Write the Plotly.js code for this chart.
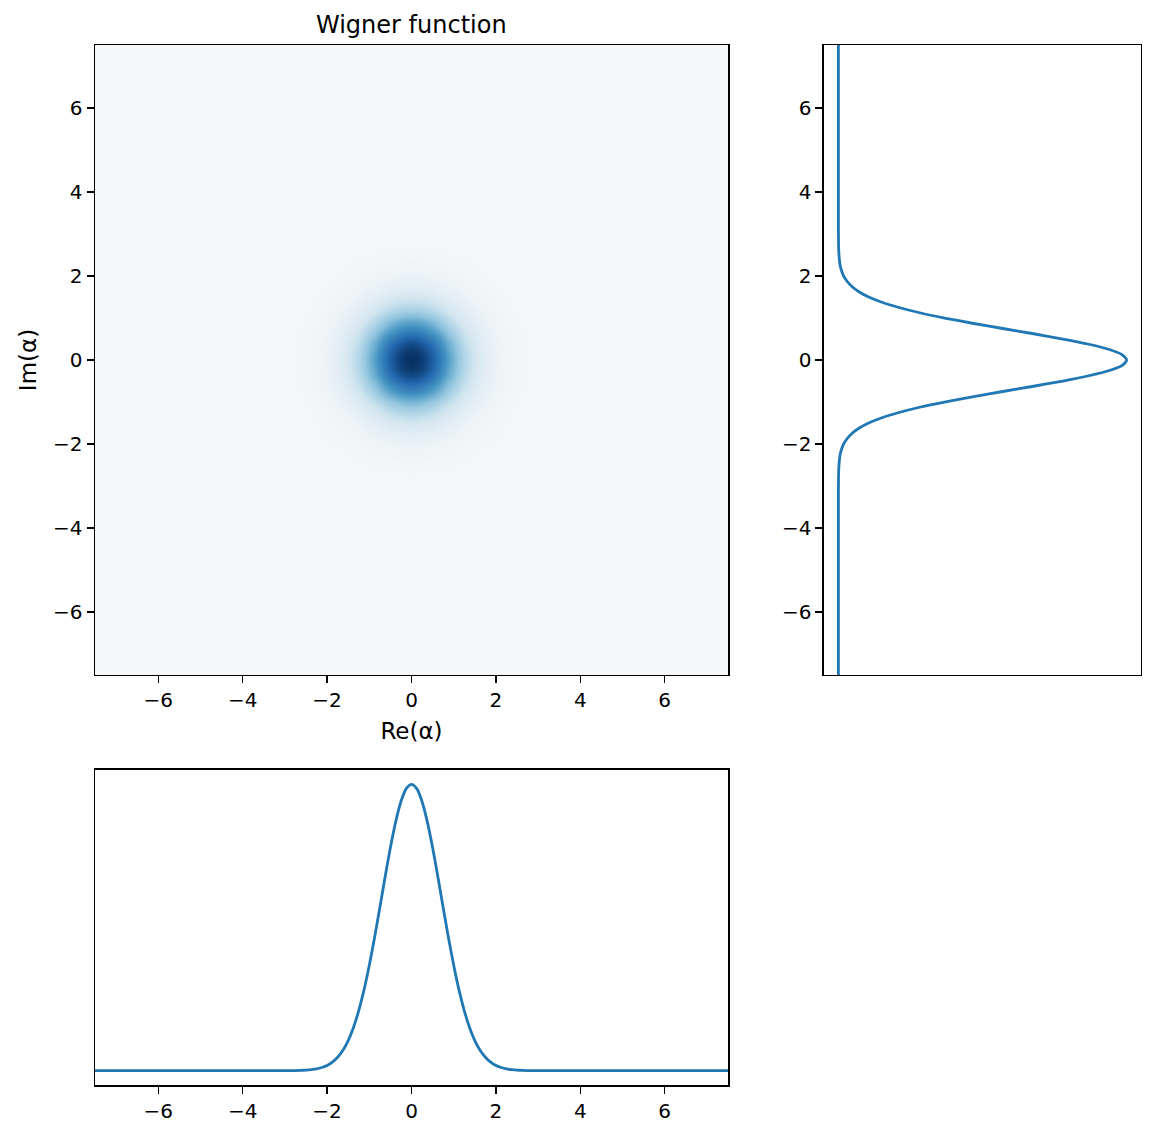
<!DOCTYPE html>
<html>
<head>
<meta charset="utf-8">
<script src="https://cdn.plot.ly/plotly-3.0.1.min.js"></script>
<style>html,body{margin:0;padding:0;background:#fff;}#chart{width:1156px;height:1135px;}</style>
</head>
<body>
<div id="chart"></div>
<script>
// Sample grid (Re(α) / Im(α) values), step 0.125 from -7.5 to 7.5
const gridPoints = [-7.5,-7.375,-7.25,-7.125,-7,-6.875,-6.75,-6.625,-6.5,-6.375,-6.25,-6.125,-6,-5.875,-5.75,-5.625,-5.5,-5.375,-5.25,-5.125,-5,-4.875,-4.75,-4.625,-4.5,-4.375,-4.25,-4.125,-4,-3.875,-3.75,-3.625,-3.5,-3.375,-3.25,-3.125,-3,-2.875,-2.75,-2.625,-2.5,-2.375,-2.25,-2.125,-2,-1.875,-1.75,-1.625,-1.5,-1.375,-1.25,-1.125,-1,-0.875,-0.75,-0.625,-0.5,-0.375,-0.25,-0.125,0,0.125,0.25,0.375,0.5,0.625,0.75,0.875,1,1.125,1.25,1.375,1.5,1.625,1.75,1.875,2,2.125,2.25,2.375,2.5,2.625,2.75,2.875,3,3.125,3.25,3.375,3.5,3.625,3.75,3.875,4,4.125,4.25,4.375,4.5,4.625,4.75,4.875,5,5.125,5.25,5.375,5.5,5.625,5.75,5.875,6,6.125,6.25,6.375,6.5,6.625,6.75,6.875,7,7.125,7.25,7.375,7.5];

// Marginal distribution (normalised to its peak), from 0 outwards
const marginalHalf = [1.0,0.985,0.94,0.869,0.779,0.677,0.57,0.465,0.368,0.282,0.21,0.151,0.105,0.071,0.047,0.03,0.018,0.011,0.006,0.0035,0.002,0.001,0.0005,0.0003,0.0001,0,0,0,0,0,0,0,0,0,0,0,0,0,0,0,0,0,0,0,0,0,0,0,0,0,0,0,0,0,0,0,0,0,0,0,0];
// Wigner function along the Re(α) axis through the centre (normalised), from 0 outwards
const wignerCutHalf = [1.0,0.988,0.953,0.897,0.825,0.741,0.649,0.555,0.463,0.38,0.305,0.24,0.19,0.145,0.108,0.078,0.055,0.038,0.026,0.017,0.011,0.007,0.004,0.0025,0.0015,0.0009,0.0005,0.0003,0,0,0,0,0,0,0,0,0,0,0,0,0,0,0,0,0,0,0,0,0,0,0,0,0,0,0,0,0,0,0,0,0];

const tickVals = [-6,-4,-2,0,2,4,6];
const tickText = ['\u22126','\u22124','\u22122','0','2','4','6'];

// symmetric profiles: mirror the listed half to the negative side
const mirror = h => h.slice(1).reverse().concat(h);
const marginal = mirror(marginalHalf);
const wignerCut = mirror(wignerCutHalf);
const wigner = wignerCut.map(wy => wignerCut.map(wx => wx * wy));

const rdbu = [
  [0.0,'#67001f'],[0.1,'#b2182b'],[0.2,'#d6604d'],[0.3,'#f4a582'],[0.4,'#fddbc7'],
  [0.5,'#f5f6f7'],[0.6,'#d1e5f0'],[0.7,'#92c5de'],[0.8,'#4393c3'],[0.9,'#2166ac'],[1.0,'#053061']
];

const FONT = 'DejaVu Sans, sans-serif';
const lineColor = '#1f77b4';

const traces = [
  {type:'heatmap', x:gridPoints, y:gridPoints, z:wigner, colorscale:rdbu, zmin:-1, zmax:1,
   zsmooth:'best', showscale:false, xaxis:'x', yaxis:'y', hoverinfo:'skip'},
  {type:'scatter', mode:'lines', x:marginal, y:gridPoints, line:{color:lineColor, width:2.8, shape:'spline', smoothing:0.8},
   xaxis:'x2', yaxis:'y2', hoverinfo:'skip'},
  {type:'scatter', mode:'lines', x:gridPoints, y:marginal, line:{color:lineColor, width:2.8, shape:'spline', smoothing:0.8},
   xaxis:'x3', yaxis:'y3', hoverinfo:'skip'}
];

const baseAxis = {
  showgrid:false, zeroline:false, showline:true, mirror:true, linecolor:'#000', linewidth:1.5,
  ticks:'outside', ticklen:7, tickwidth:1.5, tickcolor:'#000',
  tickfont:{family:FONT, size:20, color:'#000'}
};
const numAxis = Object.assign({}, baseAxis, {range:[-7.5,7.5], tickvals:tickVals, ticktext:tickText});

const layout = {
  width:1156, height:1135,
  margin:{l:0, r:0, t:0, b:0},
  paper_bgcolor:'#fff', plot_bgcolor:'#fff',
  showlegend:false,
  font:{family:FONT, color:'#000'},
  xaxis: Object.assign({}, numAxis, {domain:[0.08218,0.62976], anchor:'y',
    title:{text:'Re(\u03b1)', font:{family:FONT, size:23, color:'#000'}, standoff:11}}),
  yaxis: Object.assign({}, numAxis, {domain:[0.40529,0.96035], anchor:'x',
    title:{text:'Im(\u03b1)', font:{family:FONT, size:23, color:'#000'}, standoff:10}}),
  xaxis2: Object.assign({}, baseAxis, {domain:[0.71280,0.98702], anchor:'y2', range:[-0.05,1.05],
    showticklabels:false, ticks:''}),
  yaxis2: Object.assign({}, numAxis, {domain:[0.40529,0.96035], anchor:'x2'}),
  xaxis3: Object.assign({}, numAxis, {domain:[0.08218,0.62976], anchor:'y3'}),
  yaxis3: Object.assign({}, baseAxis, {domain:[0.04405,0.32159], anchor:'x3', range:[-0.05,1.05],
    showticklabels:false, ticks:''}),
  annotations:[{text:'Wigner function', xref:'paper', yref:'paper', x:0.35597, y:1-25/1135,
    xanchor:'center', yanchor:'middle', showarrow:false, font:{family:FONT, size:24, color:'#000'}}]
};

Plotly.newPlot('chart', traces, layout, {staticPlot:true, displayModeBar:false});
</script>
</body>
</html>
